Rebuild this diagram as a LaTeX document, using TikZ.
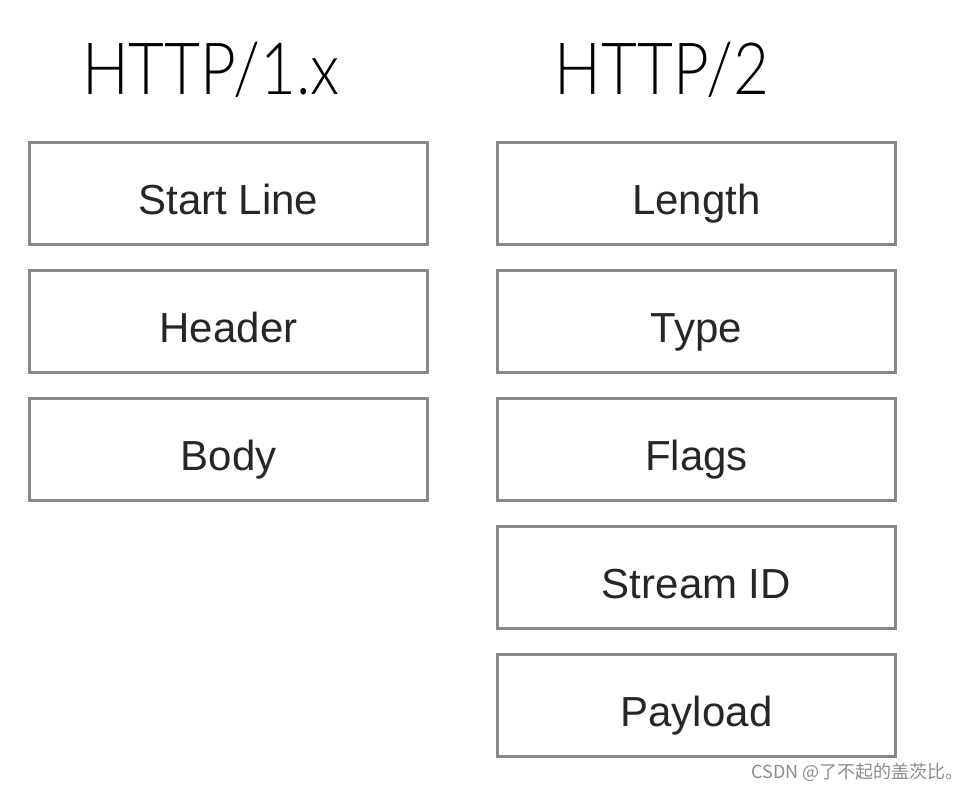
\documentclass[tikz,border=0pt]{standalone}
\usepackage{fontspec}
\setmainfont{Liberation Sans}
\newfontfamily\titlefont[FakeStretch=0.86]{Lato Light}
\newfontfamily\cjk{Noto Sans CJK SC}
\usetikzlibrary{positioning}

\begin{document}
\begin{tikzpicture}[x=1pt,y=-1pt,
					node distance=23pt,
					field/.style={rectangle,draw=black!47,line width=3pt,
						minimum width=398pt,minimum height=102pt,
						text height=41pt,text depth=0pt,
						font=\fontsize{42}{48}\selectfont,text=black!85},
					title/.style={anchor=base,font=\titlefont\fontsize{72}{80}\selectfont}]
  \useasboundingbox (0,0) rectangle (978,792);

  \node[title] (h1) at (211,95) {HTTP/1.x};
  \node[title] (h2) at (662,95) {HTTP/2};

  \node[field] (start) at (228.5,193.5) {Start Line};
  \node[field] (header) [below=of start] {Header};
  \node[field] (body) [below=of header] {Body};

  \node[field] (length) at (696.5,193.5) {Length};
  \node[field] (type) [below=of length] {Type};
  \node[field] (flags) [below=of type] {Flags};
  \node[field] (stream) [below=of flags] {Stream ID};
  \node[field] (payload) [below=of stream] {Payload};

  \node[anchor=east,text=black!45,font=\cjk\fontsize{18}{20}\selectfont] (mark) at (967,772) {CSDN @了不起的盖茨比。};
\end{tikzpicture}
\end{document}
